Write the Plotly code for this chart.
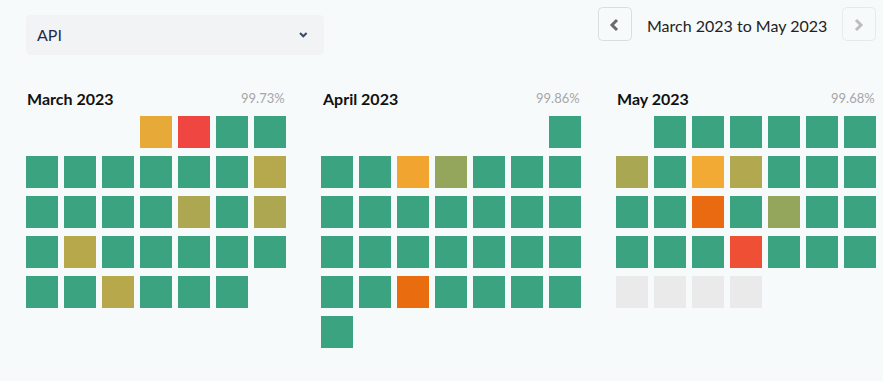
import calendar
import plotly.graph_objects as go

# ---------------- data ----------------
months = [(2023, 3), (2023, 4), (2023, 5)]
month_titles = ["March 2023", "April 2023", "May 2023"]
month_uptime = ["99.73%", "99.86%", "99.68%"]
component_name = "API"
range_label = "March 2023 to May 2023"

# daily uptime (%) per month; days missing at the end have no data yet
march_uptime = [99.53, 98.50, 100, 100,
                100, 100, 100, 100, 100, 100, 99.665,
                100, 100, 100, 100, 99.69, 100, 99.69,
                100, 99.66, 100, 100, 100, 100, 100,
                100, 100, 99.66, 100, 100, 100]
april_uptime = [100,
                100, 100, 99.45, 99.76, 100, 100, 100,
                100, 100, 100, 100, 100, 100, 100,
                100, 100, 100, 100, 100, 100, 100,
                100, 100, 99.0, 100, 100, 100, 100,
                100]
may_uptime = [100, 100, 100, 100, 100, 100,
              99.70, 100, 99.50, 99.675, 100, 100, 100,
              100, 100, 98.97, 100, 99.76, 100, 100,
              100, 100, 100, 98.62, 100, 100, 100]
daily_uptime = [march_uptime, april_uptime, may_uptime]

# ---------------- layout helpers ----------------
W, H = 883, 381
BG = "#F7FAFB"
FONT = "Lato"


def fx(x):
    return x / W


def fy(y):
    return 1 - y / H


def rrect(x0, y0, x1, y1, r):
    pts = [
        f"M {fx(x0 + r)} {fy(y0)}",
        f"L {fx(x1 - r)} {fy(y0)}",
        f"Q {fx(x1)} {fy(y0)} {fx(x1)} {fy(y0 + r)}",
        f"L {fx(x1)} {fy(y1 - r)}",
        f"Q {fx(x1)} {fy(y1)} {fx(x1 - r)} {fy(y1)}",
        f"L {fx(x0 + r)} {fy(y1)}",
        f"Q {fx(x0)} {fy(y1)} {fx(x0)} {fy(y1 - r)}",
        f"L {fx(x0)} {fy(y0 + r)}",
        f"Q {fx(x0)} {fy(y0)} {fx(x0 + r)} {fy(y0)}",
        "Z",
    ]
    return " ".join(pts)


def polyline(points):
    return "M " + " L ".join(f"{fx(x)} {fy(y)}" for x, y in points)


colorscale = [
    [0.0, "rgb(239,70,65)"],
    [1 / 3, "rgb(233,108,14)"],
    [2 / 3, "rgb(242,170,52)"],
    [1.0, "rgb(60,163,128)"],
]

fig = go.Figure()
annotations = []
shapes = []

PITCH_X = 295
for i, ((yr, mo), vals) in enumerate(zip(months, daily_uptime)):
    first_wd = calendar.monthrange(yr, mo)[0]
    offset = (first_wd + 1) % 7  # Sunday-first weeks
    ndays = calendar.monthrange(yr, mo)[1]
    z = [[None] * 7 for _ in range(6)]
    zg = [[None] * 7 for _ in range(6)]
    txt = [[""] * 7 for _ in range(6)]
    for d in range(1, ndays + 1):
        p = offset + d - 1
        r, c = divmod(p, 7)
        txt[r][c] = f"{calendar.month_name[mo]} {d}, {yr}"
        if d <= len(vals):
            z[r][c] = vals[d - 1]
        else:
            zg[r][c] = 1
    ax = "" if i == 0 else str(i + 1)
    fig.add_trace(go.Heatmap(
        z=z, text=txt, colorscale=colorscale, zmin=98.5, zmax=100,
        showscale=False, xgap=6, ygap=8, xaxis="x" + ax, yaxis="y" + ax,
        hovertemplate="%{text}<br>%{z}%<extra></extra>",
    ))
    fig.add_trace(go.Heatmap(
        z=zg, text=txt, colorscale=[[0, "#EAEAEA"], [1, "#EAEAEA"]],
        showscale=False, xgap=6, ygap=8, xaxis="x" + ax, yaxis="y" + ax,
        hovertemplate="%{text}<br>No data<extra></extra>",
    ))
    x0 = 23 + PITCH_X * i
    axis_common = dict(showgrid=False, zeroline=False, showticklabels=False,
                       ticks="", showline=False, fixedrange=True)
    fig.update_layout(**{
        "xaxis" + ax: dict(domain=[fx(x0), fx(x0 + 266)], range=[-0.5, 6.5],
                           anchor="y" + ax, **axis_common),
        "yaxis" + ax: dict(domain=[fy(352), fy(112)], range=[5.5, -0.5],
                           anchor="x" + ax, **axis_common),
    })
    left = 26 + PITCH_X * i
    annotations.append(dict(
        x=fx(left - 1), y=fy(98), xref="paper", yref="paper", xanchor="left",
        yanchor="middle", text=month_titles[i], showarrow=False,
        font=dict(family=FONT, size=16, color="#111111", weight=700)))
    annotations.append(dict(
        x=fx(left + 261), y=fy(97.5), xref="paper", yref="paper", xanchor="right",
        yanchor="middle", text=month_uptime[i], showarrow=False,
        font=dict(family=FONT, size=13, color="#A6A6A6")))

# dropdown box
shapes.append(dict(type="path", path=rrect(26, 15, 324, 55, 5), xref="paper",
                   yref="paper", fillcolor="#F1F3F5", line=dict(width=0), layer="below"))
shapes.append(dict(type="path", path=polyline([(300, 33), (303.3, 36.3), (306.6, 33)]),
                   xref="paper", yref="paper", line=dict(color="#3B4868", width=2)))
annotations.append(dict(
    x=fx(35), y=fy(35), xref="paper", yref="paper", xanchor="left", yanchor="middle",
    text=component_name, showarrow=False,
    font=dict(family=FONT, size=16, color="#1F2B4D")))

# navigation buttons
shapes.append(dict(type="path", path=rrect(598.5, 7.5, 631.5, 40.5, 4), xref="paper",
                   yref="paper", fillcolor="rgba(0,0,0,0)",
                   line=dict(color="#DCDDDE", width=1)))
shapes.append(dict(type="path", path=polyline([(617, 20), (612, 25), (617, 30)]),
                   xref="paper", yref="paper", line=dict(color="#6A6A6A", width=3)))
shapes.append(dict(type="path", path=rrect(842.5, 7.5, 875.5, 40.5, 4), xref="paper",
                   yref="paper", fillcolor="rgba(0,0,0,0)",
                   line=dict(color="#E8E9EA", width=1)))
shapes.append(dict(type="path", path=polyline([(856, 20), (861, 25), (856, 30)]),
                   xref="paper", yref="paper", line=dict(color="#BDBDBD", width=3)))
annotations.append(dict(
    x=fx(736.5), y=fy(25.5), xref="paper", yref="paper", xanchor="center",
    yanchor="middle", text=range_label, showarrow=False,
    font=dict(family=FONT, size=16, color="#222222")))

fig.update_layout(
    width=W, height=H, margin=dict(l=0, r=0, t=0, b=0),
    paper_bgcolor=BG, plot_bgcolor=BG, showlegend=False,
    annotations=annotations, shapes=shapes,
    font=dict(family=FONT),
)

fig.write_html(
    "out.html",
    config={"displayModeBar": False},
    post_script="document.body.style.margin='0';"
                "document.body.style.background='#F7FAFB';",
)
